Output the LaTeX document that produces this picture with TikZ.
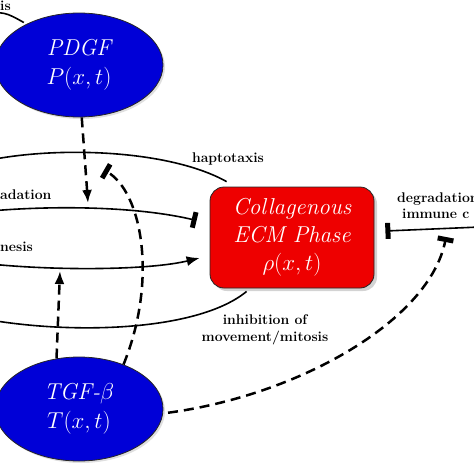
\RequirePackage{fix-cm}
\documentclass[tikz,border=0pt]{standalone}
\usepackage{amsmath}
\usepackage{tikz}
\usetikzlibrary{arrows.meta, shapes.geometric, shadows}

\definecolor{factorblue}{RGB}{0,0,215}
\definecolor{ecmred}{RGB}{238,0,0}

\begin{document}
\begin{tikzpicture}[x=1pt, y=-1pt,
    factor/.style={ellipse, draw=black!85, line width=0.8pt, fill=factorblue, text=white,
        minimum width=168pt, minimum height=104pt, inner sep=0pt, align=center,
        font=\fontsize{23}{29}\selectfont\itshape,
        drop shadow={opacity=0.25, shadow xshift=2pt, shadow yshift=-2pt}},
    phase/.style={rectangle, rounded corners=14pt, draw=black!85, line width=0.8pt, fill=ecmred,
        text=white, minimum width=164pt, minimum height=101pt, inner sep=0pt, align=center,
        font=\fontsize{23}{28}\selectfont\itshape,
        drop shadow={opacity=0.35, shadow xshift=3pt, shadow yshift=-3pt}},
    effectlabel/.style={font=\fontsize{14}{17.5}\selectfont\bfseries, inner sep=0pt, align=center},
    effect/.style={line width=1.6pt},
    signal/.style={line width=2.5pt, dash pattern=on 10pt off 6pt},
    promote/.style={-{Latex[length=13pt, width=10pt]}},
    inhibit/.style={-{Bar[width=16pt, line width=5pt]}}
]
    \useasboundingbox (0,0) rectangle (474,474);
    \clip (0,0) rectangle (474,474);

    % Growth factors and ECM phase
    \node[factor] (pdgf) at (79,65) {PDGF\\$P(x,t)$};
    \node[factor] (tgf) at (79,409) {TGF-$\beta$\\$T(x,t)$};
    \node[phase] (ecm) at (292,237.5) {Collagenous\\ECM Phase\\$\rho(x,t)$};

    % Labels (cut at the picture edges)
    \node[effectlabel, anchor=base west] (chemolab) at (0,10) {is};
    \node[effectlabel, anchor=base] (haptolab) at (228,162) {haptotaxis};
    \node[effectlabel, anchor=base west] (degrlab) at (0,199) {adation};
    \node[effectlabel, anchor=base west] (genlab) at (0,251) {nesis};
    \node[effectlabel, anchor=base west] (immlab) at (397,202) {degradation};
    \node[effectlabel, anchor=base west] (celllab) at (402,218) {immune c};
    \node[effectlabel] (inhiblab) at (265,330) {inhibition of\\movement/mitosis};

    % Free ends of the connectors
    \coordinate (chemoL) at (-20,13);
    \coordinate (haptoL) at (-10,160);
    \coordinate (degrL) at (-10,211);
    \coordinate (genL) at (-10,264);
    \coordinate (inhibL) at (-10,320);
    \coordinate (immR) at (480,227);
    \coordinate (pdgftip) at (88,203);
    \coordinate (tgftip) at (60,271);
    \coordinate (haptobar) at (104,170);
    \coordinate (immbar) at (446,237);

    % Solid effects on the ECM phase
    \draw[effect, shorten >=3pt] (chemoL) .. controls (5,12) .. (pdgf.142);
    \draw[effect] (haptoL) .. controls (60,146) and (170,150) .. ([xshift=17pt, yshift=5pt]ecm.north west);
    \draw[effect, inhibit] (degrL) .. controls (60,205) and (140,207) .. ([xshift=-13pt, yshift=17pt]ecm.west);
    \draw[effect, promote] (genL) .. controls (60,271) and (150,270) .. ([xshift=-10pt, yshift=-20.5pt]ecm.west);
    \draw[effect] (inhibL) .. controls (80,335) and (200,330) .. ([xshift=37pt, yshift=-3pt]ecm.south west);
    \draw[effect, inhibit] (immR) -- ([xshift=11pt, yshift=6.5pt]ecm.east);

    % Dashed signals from the growth factors
    \draw[signal, promote] (pdgf.-87) -- (pdgftip);
    \draw[signal, promote] (tgf.114) -- (tgftip);
    \draw[signal, inhibit] (tgf.45) .. controls (158,280) and (142,192) .. (haptobar);
    \draw[signal, inhibit, shorten <=5pt] (tgf.-3) .. controls (300,395) and (430,320) .. (immbar);
\end{tikzpicture}
\end{document}
